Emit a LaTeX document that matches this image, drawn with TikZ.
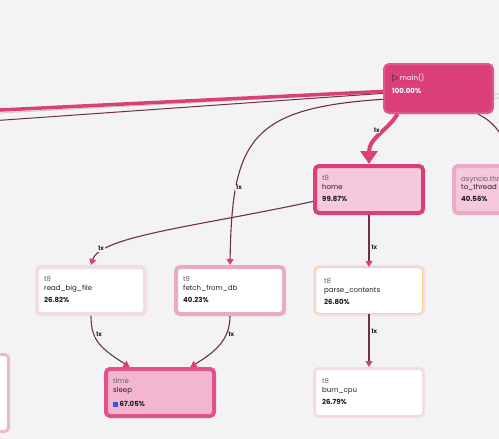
\documentclass[tikz,border=0pt]{standalone}
\usepackage{fontspec}
\setmainfont{Poppins}
\newfontfamily\symfont{DejaVu Sans}
\usetikzlibrary{arrows.meta}

\definecolor{bg}{HTML}{F3F3F3}
\definecolor{hot}{HTML}{DB3F79}
\definecolor{hotrim}{HTML}{E2588D}
\definecolor{rose}{HTML}{F5C9DB}
\definecolor{roseline}{HTML}{EAA9C4}
\definecolor{pale}{HTML}{F4DCE6}
\definecolor{blush}{HTML}{EBB8CD}
\definecolor{sleepfill}{HTML}{F2B7CE}
\definecolor{sleepline}{HTML}{E0528A}
\definecolor{amber}{HTML}{F8D68E}
\definecolor{wine}{HTML}{6E2E4E}
\definecolor{ink}{HTML}{1E1E1E}
\definecolor{cpu}{HTML}{2F5BE0}

\tikzset{
  frame/.style={rectangle, rounded corners=4pt, minimum width=108pt, minimum height=47pt, line width=4pt},
  txt/.style={anchor=north west, inner sep=0pt, align=left, text=ink, font=\fontsize{7}{8.5}\selectfont},
  call/.style={draw=wine, line width=1.1pt, -{Triangle[length=6pt,width=7pt,color=hot]}},
  hits/.style={font=\fontsize{6}{6}\selectfont\bfseries, text=ink, fill=bg, inner sep=0.8pt},
}

\begin{document}
\begin{tikzpicture}[x=1pt,y=-1pt]
\fill[bg] (0,0) rectangle (499,439);
\useasboundingbox (0,0) rectangle (499,439);

% boxes
\node[frame, fill=hot, draw=hotrim, line width=2pt, minimum width=109pt, minimum height=49pt, rounded corners=5pt] (main) at (438.5,88.5) {};
\node[frame, fill=rose, draw=hot] (home) at (369,189.5) {};
\node[frame, fill=rose, draw=roseline] (thread) at (508,189.5) {};
\node[frame, fill=white, draw=pale] (read) at (91,290.5) {};
\node[frame, fill=white, draw=roseline] (fetch) at (230,290.5) {};
\node[frame, fill=white, draw=amber, line width=1pt, minimum width=107pt, minimum height=46pt, preaction={draw=pale, line width=5pt}] (parse) at (369,290.5) {};
\node[frame, fill=sleepfill, draw=sleepline] (sleep) at (160,392.5) {};
\node[frame, fill=white, draw=pale, line width=3pt, minimum width=109pt, minimum height=48pt] (burn) at (369,392.5) {};
\node[frame, fill=white, draw=blush, line width=3pt, minimum height=77pt] (left) at (-45.5,393) {};

% texts
\node[txt, text=white] (main-txt) at ([shift={(9,10.5)}]main.north west) {{\fontsize{8.5}{8.5}\symfont\color{ink}▷}\,main()\\[4.5pt]\bfseries 100.00\%};
\node[txt] (home-txt) at ([shift={(9,11.5)}]home.north west) {{\color{ink!70}t8}\\ home\\[3.2pt]\bfseries 99.87\%};
\node[txt] (thread-txt) at ([shift={(9,11.5)}]thread.north west) {{\color{ink!70}asyncio.threads}\\ to\_thread\\[3.2pt]\bfseries 40.56\%};
\node[txt] (read-txt) at ([shift={(9,11.5)}]read.north west) {{\color{ink!70}t8}\\ read\_big\_file\\[3.2pt]\bfseries 26.82\%};
\node[txt] (fetch-txt) at ([shift={(9,11.5)}]fetch.north west) {{\color{ink!70}t8}\\ fetch\_from\_db\\[3.2pt]\bfseries 40.23\%};
\node[txt] (parse-txt) at ([shift={(9,11.5)}]parse.north west) {{\color{ink!70}t8}\\ parse\_contents\\[3.2pt]\bfseries 26.80\%};
\node[txt] (sleep-txt) at ([shift={(9,11)}]sleep.north west) {{\color{ink!70}time}\\ sleep\\[6pt]{\color{cpu}\rule{4.5pt}{4.5pt}}\ \bfseries 67.05\%};
\node[txt] (burn-txt) at ([shift={(9,11.5)}]burn.north west) {{\color{ink!70}t8}\\ burn\_cpu\\[3.2pt]\bfseries 26.79\%};

% edges leaving the picture
\coordinate (offA) at (-10,110.5);
\coordinate (offB) at (-10,113.5);
\coordinate (offC) at (-10,121);
\coordinate (offD) at (520,93);
\coordinate (offE) at (520,97);
\draw[black!20, line width=1pt] (main.184) -- (offB);
\draw[wine, line width=1pt] (main.185) -- (offC);
\draw[hot, line width=3.5pt] (main.183) -- (offA);
\draw[black!20, line width=1pt] (main.-6) -- (offD);
\draw[black!20, line width=1pt] (main.-10) -- (offE);

% calls
\draw[hot, line width=4pt, -{Triangle[length=13pt,width=17pt]}] (main.212) .. controls (386,132) and (369,138) .. node[hits, left=2pt, pos=.35]{1x} (home.north);
\draw[call] (main.191) .. controls (250,108) and (232,140) .. node[hits, pos=.75, xshift=3pt]{1x} (fetch.north);
\draw[call] (main.-33) .. controls (495,122) and (508,140) .. (thread.north);
\draw[call] (home.192) .. controls (200,226) and (100,236) .. node[hits, pos=.85, above=1pt]{1x} (read.north);
\draw[call] (home.south) -- node[hits, pos=.62, right=1pt]{1x} (parse.north);
\draw[call] (read.south) .. controls (91,340) and (100,348) .. node[hits, pos=.3, right=1pt]{1x} (sleep.140);
\draw[call] (fetch.south) .. controls (230,340) and (215,352) .. node[hits, pos=.3, right=1pt]{1x} (sleep.40);
\draw[call] (parse.south) -- node[hits, pos=.33, right=1pt]{1x} (burn.north);
\end{tikzpicture}
\end{document}
